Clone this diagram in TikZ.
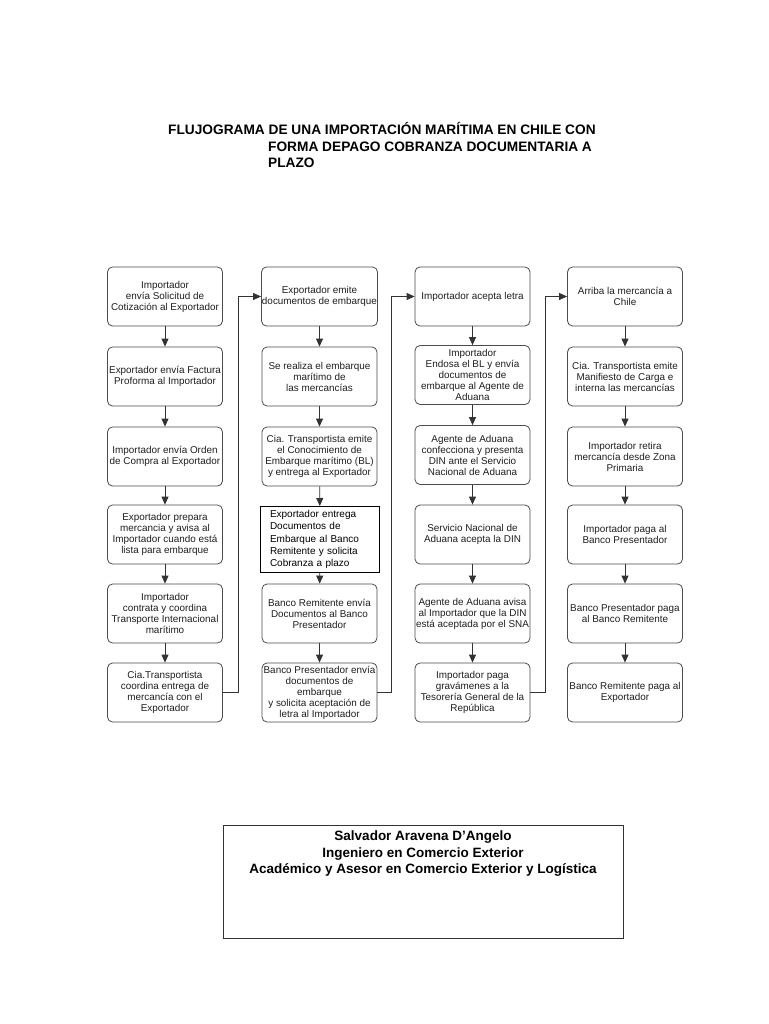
\documentclass[tikz,border=0pt]{standalone}
\usepackage{fontspec}
\setmainfont{Liberation Sans}
\usetikzlibrary{positioning,calc,arrows.meta}

\begin{document}
\begin{tikzpicture}[x=1pt,y=-1pt,
    paso/.style={draw=black!70, line width=0.8pt, rounded corners=5pt,
      minimum width=115, minimum height=59, inner sep=0.5pt, align=center,
      text=black!88, font=\fontsize{9.9}{11}\selectfont},
    recuadro/.style={draw=black, line width=1pt, minimum width=119,
      minimum height=66, inner xsep=9.5pt, inner ysep=0pt, text width=100,
      align=left, text=black, font=\fontsize{10}{12.3}\selectfont},
    flecha/.style={draw=black!80, line width=0.8pt,
      -{Triangle[length=8pt,width=7pt]}}]
  \def\cA{165}
  \def\cB{319.5}
  \def\cC{472.5}
  \def\cD{625}

  \fill[white] (0,0) rectangle (768,1024);
  \useasboundingbox (0,0) rectangle (768,1024);

  % title
  \begin{scope}[font=\bfseries\fontsize{13.7}{16}\selectfont]
    \node[anchor=base west, inner sep=0] (tit1) at (168,135)
      {FLUJOGRAMA DE UNA IMPORTACIÓN MARÍTIMA EN CHILE CON};
    \node[anchor=base west, inner sep=0] (tit2) at (268,152)
      {FORMA DEPAGO COBRANZA DOCUMENTARIA A};
    \node[anchor=base west, inner sep=0] (tit3) at (268,168) {PLAZO};
  \end{scope}

  % column 1
  \node[paso] (c1a) at (\cA,296.5) {Importador\\envía Solicitud de\\Cotización al Exportador};
  \node[paso] (c1b) at (\cA,376.5) {Exportador envía Factura\\Proforma al Importador};
  \node[paso] (c1c) at (\cA,456.5) {Importador envía Orden\\de Compra al Exportador};
  \node[paso] (c1d) at (\cA,534.5) {Exportador prepara\\mercancia y avisa al\\Importador cuando está\\lista para embarque};
  \node[paso] (c1e) at (\cA,613.5) {Importador\\contrata y coordina\\Transporte Internacional\\marítimo};
  \node[paso] (c1f) at (\cA,692.5) {Cia.Transportista\\coordina entrega de\\mercancía con el\\Exportador};

  % column 2
  \node[paso] (c2a) at (\cB,296.5) {Exportador emite\\documentos de embarque};
  \node[paso] (c2b) at (\cB,376.5) {Se realiza el embarque\\marítimo de\\las mercancías};
  \node[paso] (c2c) at (\cB,456.5) {Cia. Transportista emite\\el Conocimiento de\\Embarque marítimo (BL)\\y entrega al Exportador};
  \node[recuadro] (c2d) at (320,539.5) {Exportador entrega\\Documentos de\\Embarque al Banco\\Remitente y solicita\\Cobranza a plazo};
  \node[paso] (c2e) at (\cB,613.5) {Banco Remitente envía\\Documentos al Banco\\Presentador};
  \node[paso] (c2f) at (\cB,692.5) {Banco Presentador envía\\documentos de\\embarque\\y solicita aceptación de\\letra al Importador};

  % column 3
  \node[paso] (c3a) at (\cC,296.5) {Importador acepta letra};
  \node[paso] (c3b) at (\cC,375) {Importador\\Endosa el BL y envía\\documentos de\\embarque al Agente de\\Aduana};
  \node[paso] (c3c) at (\cC,455) {Agente de Aduana\\confecciona y presenta\\DIN ante el Servicio\\Nacional de Aduana};
  \node[paso] (c3d) at (\cC,534.5) {Servicio Nacional de\\Aduana acepta la DIN};
  \node[paso] (c3e) at (\cC,613.5) {Agente de Aduana avisa\\al Importador que la DIN\\está aceptada por el SNA};
  \node[paso] (c3f) at (\cC,692.5) {Importador paga\\gravámenes a la\\Tesorería General de la\\República};

  % column 4
  \node[paso] (c4a) at (\cD,296.5) {Arriba la mercancía a\\Chile};
  \node[paso] (c4b) at (\cD,376.5) {Cia. Transportista emite\\Manifiesto de Carga e\\interna las mercancías};
  \node[paso] (c4c) at (\cD,456.5) {Importador retira\\mercancía desde Zona\\Primaria};
  \node[paso] (c4d) at (\cD,534.5) {Importador paga al\\Banco Presentador};
  \node[paso] (c4e) at (\cD,613.5) {Banco Presentador paga\\al Banco Remitente};
  \node[paso] (c4f) at (\cD,692.5) {Banco Remitente paga al\\Exportador};

  % arrows down each column
  \foreach \i in {1,2,3,4} {
    \draw[flecha] (c\i a) -- (c\i b);
    \draw[flecha] (c\i b) -- (c\i c);
    \draw[flecha] (c\i c) -- (c\i d);
    \draw[flecha] (c\i d) -- (c\i e);
    \draw[flecha] (c\i e) -- (c\i f);
  }

  % from the foot of one column to the head of the next
  \draw[flecha] (c1f.east) -- ++(15,0) |- (c2a.west);
  \draw[flecha] (c2f.east) -- ++(14,0) |- (c3a.west);
  \draw[flecha] (c3f.east) -- ++(15,0) |- (c4a.west);

  % signature
  \node[draw=black!80, line width=0.9pt, minimum width=400, minimum height=113,
    anchor=north west] (firma) at (223,825) {};
  \node[anchor=north, inner sep=0, align=center,
    font=\bfseries\fontsize{13.5}{16.5}\selectfont] (autor) at (423,831)
    {Salvador Aravena D’Angelo\\Ingeniero en Comercio Exterior\\Académico y Asesor en Comercio Exterior y Logística};
\end{tikzpicture}
\end{document}
